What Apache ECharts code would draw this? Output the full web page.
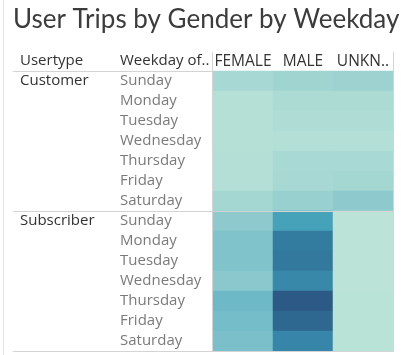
<!DOCTYPE html>
<html>
<head>
<meta charset="utf-8">
<style>html,body{margin:0;padding:0;background:#fff;}#c{width:401px;height:355px;}</style>
<script src="https://cdn.jsdelivr.net/npm/echarts@6/dist/echarts.min.js"></script>
</head>
<body>
<div id="c"></div>
<script>
var titleText = 'User Trips by Gender by Weekday';
var userTypes = ['Customer', 'Subscriber'];
var weekdays = ['Sunday', 'Monday', 'Tuesday', 'Wednesday', 'Thursday', 'Friday', 'Saturday'];
var genders = ['FEMALE', 'MALE', 'UNKN..'];
// trip counts per weekday (Sunday..Saturday), estimated from colour
var customerFemale  = [5100, 1800, 1800, 1800, 2100, 2100, 6000];
var customerMale    = [7200, 3900, 3300, 2100, 4800, 5100, 9000];
var customerUnknown = [7800, 3900, 3300, 2100, 4800, 6000, 12000];
var subscriberFemale  = [12000, 15000, 15000, 12600, 19800, 18000, 16800];
var subscriberMale    = [30000, 45000, 46200, 40200, 60000, 52800, 40800];
var subscriberUnknown = [300, 300, 300, 300, 600, 600, 600];

var groups = [
  [customerFemale, customerMale, customerUnknown],
  [subscriberFemale, subscriberMale, subscriberUnknown]
];
var rows = [], typeLabels = [], data = [];
userTypes.forEach(function (u, ui) {
  weekdays.forEach(function (d, di) {
    var r = rows.length;
    rows.push(d);
    typeLabels.push(di === 0 ? u : '');
    groups[ui].forEach(function (arr, gi) { data.push([gi, r, arr[di]]); });
  });
});

var FONT = 'Open Sans';
var lineColor = '#d4d4d4';
var chart = echarts.init(document.getElementById('c'));
chart.setOption({
  animation: false,
  title: {
    text: titleText, left: 13, top: 7, padding: 0,
    textStyle: {fontFamily: 'Lato', fontSize: 26, fontWeight: 'normal', color: '#3c3c3c'}
  },
  grid: {left: 213, right: 8, top: 71, bottom: 4},
  xAxis: {
    type: 'category', data: genders, position: 'top',
    axisLine: {show: false}, axisTick: {show: false}, splitLine: {show: false},
    axisLabel: {fontFamily: FONT, fontSize: 15.5, color: '#333', margin: 1, interval: 0, hideOverlap: false}
  },
  yAxis: [{
    type: 'category', data: rows, inverse: true,
    axisLine: {show: false}, axisTick: {show: false},
    axisLabel: {fontFamily: FONT, fontSize: 15, color: '#7a7a7a', align: 'left', margin: 93, interval: 0, padding: [3, 0, 0, 0]}
  }, {
    type: 'category', data: typeLabels, inverse: true, position: 'left',
    axisLine: {show: false}, axisTick: {show: false},
    axisLabel: {fontFamily: FONT, fontSize: 15, color: '#333', align: 'left', margin: 193, interval: 0, padding: [3, 0, 0, 0]}
  }],
  visualMap: {
    show: false, min: 0, max: 60000, dimension: 2,
    inRange: {color: ['#bce4d8', '#9ed3d1', '#81c3cb', '#64b3c4', '#45a2b9', '#3a8fb0', '#347ba0', '#2e6890', '#2c5985']}
  },
  series: [{
    type: 'heatmap', data: data, yAxisIndex: 0,
    itemStyle: {borderWidth: 0},
    emphasis: {disabled: true}
  }],
  graphic: [
    {type: 'line', shape: {x1: 3.5, y1: 0, x2: 3.5, y2: 355}, style: {stroke: '#e6e6e6', lineWidth: 1}},
    {type: 'line', shape: {x1: 13, y1: 71.5, x2: 213, y2: 71.5}, style: {stroke: lineColor, lineWidth: 1}},
    {type: 'line', shape: {x1: 13, y1: 211.5, x2: 393, y2: 211.5}, style: {stroke: lineColor, lineWidth: 1}, z: 10},
    {type: 'line', shape: {x1: 13, y1: 351.5, x2: 393, y2: 351.5}, style: {stroke: lineColor, lineWidth: 1}, z: 10},
    {type: 'line', shape: {x1: 212.5, y1: 52, x2: 212.5, y2: 352}, style: {stroke: lineColor, lineWidth: 1}, z: 10},
    {type: 'line', shape: {x1: 393.5, y1: 52, x2: 393.5, y2: 352}, style: {stroke: lineColor, lineWidth: 1}, z: 10},
    {type: 'text', left: 20, top: 53, style: {text: 'Usertype', fontFamily: FONT, fontSize: 15, fill: '#333'}},
    {type: 'text', left: 120, top: 53, style: {text: 'Weekday of..', fontFamily: FONT, fontSize: 15, fill: '#333'}}
  ]
});
</script>
</body>
</html>
